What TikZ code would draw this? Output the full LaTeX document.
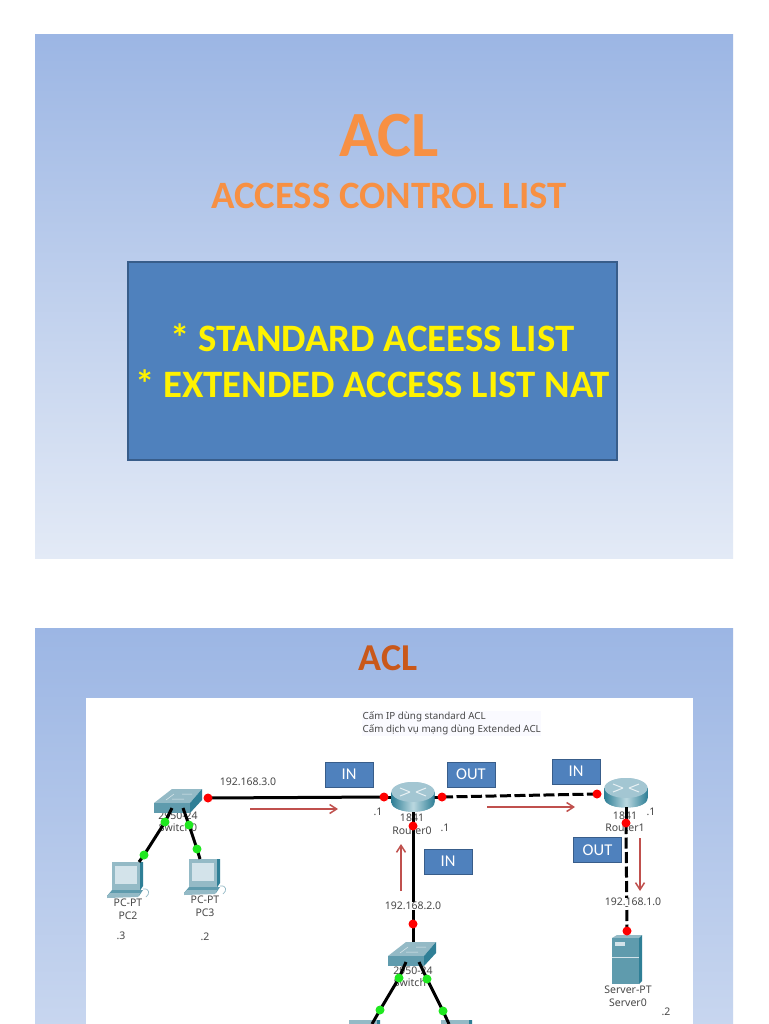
\documentclass[tikz,border=0pt]{standalone}
\usepackage{fontspec}
\setmainfont{Carlito}
\newfontfamily\netfont{Noto Sans}
\usetikzlibrary{arrows.meta}
\definecolor{slidetop}{HTML}{9CB6E4}
\definecolor{slidebot}{HTML}{E3EAF6}
\definecolor{boxblue}{HTML}{4F81BD}
\definecolor{boxedge}{HTML}{385D8A}
\definecolor{ttlorange}{HTML}{F79043}
\definecolor{ttldark}{HTML}{C9581A}
\definecolor{arrowred}{HTML}{C0504D}
\definecolor{devtop}{HTML}{94BAC6}
\definecolor{devfront}{HTML}{5F9BAD}
\definecolor{devside}{HTML}{2F7F96}
\definecolor{devlight}{HTML}{D3E3EA}
\definecolor{rtrtop}{HTML}{A3C6D2}
\definecolor{rtrmid}{HTML}{BBD8E0}
\definecolor{netgray}{HTML}{484848}
\definecolor{linkgreen}{HTML}{1FE81F}
\tikzset{
  rdot/.style={circle,fill=red,inner sep=0pt,minimum size=9pt},
  gdot/.style={circle,fill=linkgreen,inner sep=0pt,minimum size=9pt},
  tagbox/.style={draw=boxedge,line width=1pt,fill=boxblue,text=white,minimum width=48pt,minimum height=25pt,inner sep=0pt,font=\fontsize{16.5}{16.5}\selectfont},
  link/.style={line width=3pt,black},
  dlink/.style={line width=3pt,black,dash pattern=on 11pt off 3.5pt},
  flow/.style={line width=1.5pt,arrowred,-{Straight Barb[length=7pt,width=9pt,line width=1.5pt]}},
  netlbl/.style={font=\netfont\fontsize{10.5}{12.5}\selectfont,text=netgray,align=center,inner sep=0.5pt},
  iplbl/.style={netlbl,fill=white},
}
\newcommand{\swicon}[2]{%
  \begin{scope}[shift={(#1,#2)}]
    \fill[devtop] (-24,3) -- (-6,-11) -- (24,-11) -- (12,3) -- cycle;
    \fill[devfront] (-24,3) rectangle (12,13);
    \fill[devside] (12,3) -- (24,-11) -- (24,0) -- (12,13) -- cycle;
    \draw[white,line width=.5pt,opacity=.7] (-12,0) -- (-4,-6) (4,-6) -- (14,-6) (-6,-1) -- (6,-1);
  \end{scope}}
\newcommand{\routericon}[2]{%
  \begin{scope}[shift={(#1,#2)}]
    \shade[left color=devside,right color=devside,middle color=rtrmid]
      (-21.5,-4) -- (-21.5,6) .. controls (-21.5,19) and (21.5,19) .. (21.5,6) -- (21.5,-4) -- cycle;
    \fill[rtrtop] (0,-4) ellipse[x radius=21.5,y radius=10];
    \draw[white,line width=1pt,opacity=.75] (-13,-8) -- (-3,-4) (13,-8) -- (3,-4) (-13,0) -- (-3,-4) (13,0) -- (3,-4);
  \end{scope}}
\newcommand{\pcicon}[2]{%
  \begin{scope}[shift={(#1,#2)}]
    \fill[devside] (0,0) -- (31,0) -- (31,24) -- (27,30) -- (0,30) -- cycle;
    \fill[devtop] (0,0) -- (28,0) -- (28,28) -- (0,28) -- cycle;
    \fill[devlight] (3,4) rectangle (25,22);
    \fill[devfront] (-5,34) -- (0,28) -- (31,28) -- (27,34) -- cycle;
    \fill[devtop] (-5,34) -- (-2,31) -- (28,31) -- (26,35) -- (-5,36) -- cycle;
    \draw[devtop,line width=.7pt] (31,27) .. controls (38,26) and (38,32) .. (34,35);
  \end{scope}}
\begin{document}
\begin{tikzpicture}[x=1pt,y=-1pt]
\useasboundingbox (0,0) rectangle (768,1024);
\clip (0,0) rectangle (768,1024);
\fill[white] (0,0) rectangle (768,1024);

% slide 1
\shade[top color=slidetop,bottom color=slidebot] (35,35) rectangle (733,558);
\node[text=ttlorange,font=\bfseries\fontsize{64.5}{64.5}\selectfont] (t1) at (389,136) {ACL};
\node[text=ttlorange,font=\bfseries\fontsize{38.7}{38.7}\selectfont] (t2) at (389,196) {ACCESS CONTROL LIST};
\node[draw=boxedge,line width=1.2pt,fill=boxblue,minimum width=489pt,minimum height=198pt,inner sep=0pt,
      text=yellow,align=center,font=\bfseries\fontsize{38.8}{46.5}\selectfont] (mainbox) at (372.5,361)
      {* STANDARD ACEESS LIST\\* EXTENDED ACCESS LIST NAT};

% slide 2
\shade[top color=slidetop,bottom color=slidebot!85!slidetop] (35,628) rectangle (733,1180);
\node[text=ttldark,font=\bfseries\fontsize{38}{38}\selectfont] (t3) at (388,658) {ACL};
\fill[white] (86,698) rectangle (693,1030);

% note
\node[netlbl,anchor=north west,align=left,fill=blue!2,font=\netfont\fontsize{9.8}{13}\selectfont] (note) at (362,711)
  {Cấm IP dùng standard ACL\\Cấm dịch vụ mạng dùng Extended ACL};

% anchor points
\coordinate (s0r) at (208,798);
\coordinate (r0w) at (384,797);
\coordinate (r0e) at (442,797);
\coordinate (r1w) at (597,794);
\coordinate (r0s) at (413,826);
\coordinate (s1n) at (413,924);
\coordinate (r1s) at (626,823);
\coordinate (srv) at (627,931);
\coordinate (s0a) at (172,808);
\coordinate (g1)  at (165,822);
\coordinate (g2)  at (144,855);
\coordinate (pc2t) at (139,862);
\coordinate (s0b) at (183,808);
\coordinate (g3)  at (189,825);
\coordinate (g4)  at (197,849);
\coordinate (pc3t) at (200,859);
\coordinate (s1a) at (406,962);
\coordinate (g5)  at (399,978);
\coordinate (g6)  at (380,1010);
\coordinate (pc4t) at (372,1024);
\coordinate (s1b) at (419,962);
\coordinate (g7)  at (427,979);
\coordinate (g8)  at (443,1011);
\coordinate (pc5t) at (449,1024);

% device labels (lines run over them)
\node[netlbl] (lsw0) at (178,821.5) {2950-24\\Switch0};
\node[netlbl] (lr0) at (412,824) {1841\\Router0};
\node[netlbl] (lr1) at (625,821.5) {1841\\Router1};
\node[netlbl] (lsw1) at (413,976.5) {2950-24\\Switch1};

% devices
\swicon{178}{800}
\swicon{412}{953}
\routericon{413}{796}
\routericon{626}{792}
\pcicon{112}{862}
\pcicon{189}{859}
\pcicon{349}{1020}
\pcicon{441}{1020}
\fill[devtop] (612,938) -- (617,935) -- (642,935) -- (639,938) -- cycle;
\fill[devfront] (612,938) rectangle (639,984);
\fill[devside] (639,938) -- (642,935) -- (642,981) -- (639,984) -- cycle;
\fill[devlight] (615,942) rectangle (625,946);
\draw[devlight,line width=.4pt] (612,957) -- (639,957);

% connectors
\draw[link] (s0r) -- (r0w);
\draw[link] (r0w) -- (r0e);
\draw[dlink] (r0e) -- (r1w);
\draw[link] (r0s) -- (s1n);
\draw[link] (s1n) -- (413,942);
\draw[link] (626,806) -- (r1s);
\draw[dlink] (r1s) -- (srv);
\draw[link] (413,812) -- (r0s);
\draw[link] (s0a) -- (g1) -- (g2) -- (pc2t);
\draw[link] (s0b) -- (g3) -- (g4) -- (pc3t);
\draw[link] (s1a) -- (g5) -- (g6) -- (pc4t);
\draw[link] (s1b) -- (g7) -- (g8) -- (pc5t);

% redraw the routers' bodies over the straight through-lines
\begin{scope}
  \clip (384,775) rectangle (442,811);
  \routericon{413}{796}
\end{scope}
\begin{scope}
  \clip (600,775) rectangle (650,806);
  \routericon{626}{792}
\end{scope}

% link end dots
\foreach \n in {s0r,r0w,r0e,r1w,r0s,s1n,r1s,srv} \node[rdot] at (\n) {};
\foreach \n in {g1,g2,g3,g4,g5,g6,g7,g8} \node[gdot] at (\n) {};

% labels
\node[netlbl] (ip3) at (248,782) {192.168.3.0};
\node[iplbl] (ip2) at (413,906) {192.168.2.0};
\node[iplbl] (ip1) at (633,902) {192.168.1.0};
\node[netlbl] (d1) at (378,812) {.1};
\node[netlbl] (d2) at (445,828) {.1};
\node[netlbl] (d3) at (651,812) {.1};
\node[netlbl] (d4) at (121,936) {.3};
\node[netlbl] (d5) at (205,937) {.2};
\node[netlbl] (d6) at (666,1012) {.2};
\node[netlbl] (lpc2) at (128,909) {PC-PT\\PC2};
\node[netlbl] (lpc3) at (205,906) {PC-PT\\PC3};
\node[netlbl] (lsrv) at (628,996) {Server-PT\\Server0};

% tags
\node[tagbox] (in1) at (349,774.5) {IN};
\node[tagbox] (out1) at (471,774.5) {OUT};
\node[tagbox] (in2) at (576,771.5) {IN};
\node[tagbox] (out2) at (597.5,850) {OUT};
\node[tagbox] (in3) at (448,861.5) {IN};

% flow arrows
\coordinate (f1a) at (250,809); \coordinate (f1b) at (338,809);
\coordinate (f2a) at (487,807); \coordinate (f2b) at (575,807);
\coordinate (f3a) at (401,891); \coordinate (f3b) at (401,844);
\coordinate (f4a) at (640,838); \coordinate (f4b) at (640,891);
\draw[flow] (f1a) -- (f1b);
\draw[flow] (f2a) -- (f2b);
\draw[flow] (f3a) -- (f3b);
\draw[flow] (f4a) -- (f4b);
\end{tikzpicture}
\end{document}
